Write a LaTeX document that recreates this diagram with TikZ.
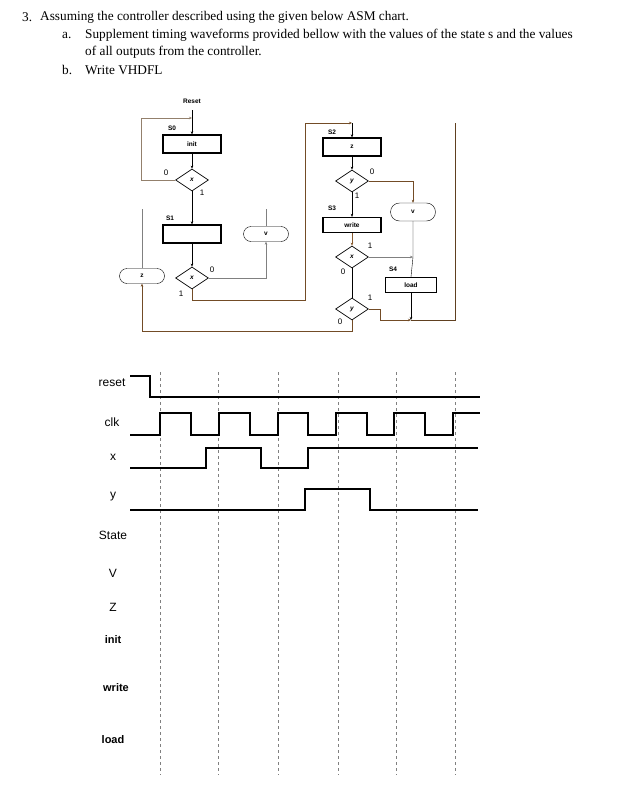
\documentclass[tikz,border=0pt]{standalone}
\usepackage{fontspec}
\setmainfont{Liberation Serif}
\newfontfamily\sfA{Liberation Sans}
\usetikzlibrary{shapes.geometric,shapes.misc,arrows.meta}
\begin{document}
\begin{tikzpicture}[x=1pt,y=-1pt,
  box/.style={draw,line width=1.3pt,minimum width=58pt,minimum height=18pt,inner sep=0pt,font=\sfA\fontsize{6.5}{7}\bfseries\selectfont},
  dia/.style={draw,diamond,aspect=1.55,minimum width=33pt,minimum height=22pt,inner sep=0pt,line width=0.7pt,font=\sfA\fontsize{6.5}{7}\bfseries\itshape\selectfont},
  ov/.style={draw,rounded rectangle,minimum width=45pt,minimum height=15pt,inner sep=0pt,font=\sfA\fontsize{6.5}{7}\bfseries\selectfont},
  sl/.style={font=\sfA\fontsize{6.5}{7}\bfseries\selectfont,inner sep=0pt},
  bl/.style={font=\sfA\fontsize{8}{9}\selectfont,inner sep=0pt},
  ar/.style={-{Stealth[length=3pt,width=2.5pt]}},
  wl/.style={font=\sfA\fontsize{12}{14}\selectfont,inner sep=0pt},
  wb/.style={font=\sfA\fontsize{11}{13}\bfseries\selectfont,inner sep=0pt},
  ws/.style={line width=1.1pt},
  dl/.style={dashed,gray,line width=0.9pt},
  tx/.style={anchor=west,inner sep=0pt,font=\fontsize{13.3}{15}\selectfont}]
\useasboundingbox (0,0) rectangle (625,792);
% header
\node[tx] (n3) at (22,17) {3.};
\node[tx] (t1) at (40,17) {Assuming the controller described using the given below ASM chart.};
\node[tx] (na) at (62,35) {a.};
\node[tx] (t2) at (85,35) {Supplement timing waveforms provided bellow with the values of the state s and the values};
\node[tx] (t3) at (85,52) {of all outputs from the controller.};
\node[tx] (nb) at (62,70) {b.};
\node[tx] (t4) at (85,70) {Write VHDFL};
% ASM chart
\node[sl] (reset) at (192,101) {Reset};
\node[box] (s0) at (192,144) {init};
\node[sl] (l0) at (172,128) {S0};
\node[dia] (d1) at (192,180) {x};
\node[bl] (d1a) at (166,173) {0};
\node[bl] (d1b) at (202,193) {1};
\coordinate (r0) at (192,110);
\coordinate (j0) at (192,118);
\draw[ar] (r0) -- (s0.north);
\draw[ar,gray!70!brown] (d1.west) -| (141,118) -- (j0);
\draw[ar] (s0.south) -- (d1.north);
\node[box] (s1) at (192,234) {};
\node[sl] (l1) at (170,218) {S1};
\draw[ar] (d1.south) -- (s1.north);
\node[dia] (d2) at (192,278) {x};
\node[bl] (d2a) at (212,270) {0};
\node[bl] (d2b) at (181,294) {1};
\draw[ar] (s1.south) -- (d2.north);
\node[ov] (v1) at (266,234) {v};
\draw[ar,gray] (d2.east) -| (v1.south);
\coordinate (v1t) at (266,209);
\draw[gray] (v1.north) -- (v1t);
\node[ov] (z1) at (142,276) {z};
\coordinate (z1t) at (142,209);
\draw[gray] (z1.north) -- (z1t);
\node[box] (s2) at (352,147) {z};
\node[sl] (l2) at (332,132) {S2};
\coordinate (j2) at (352,123);
\draw[ar,brown!60!black] (d2.south) |- (305,300) -- (305,123) -- (j2);
\draw[ar] (j2) -- (s2.north);
\node[dia] (d3) at (352,181) {y};
\node[bl] (d3a) at (372,172) {0};
\node[bl] (d3b) at (357,196) {1};
\draw[ar] (s2.south) -- (d3.north);
\node[box,minimum height=15pt] (s3) at (352,225) {write};
\node[sl] (l3) at (332,208) {S3};
\draw[ar] (d3.south) -- (s3.north);
\node[ov,minimum height=18pt] (v2) at (413,212) {v};
\draw[ar,brown!60!black] (d3.east) -| (v2.north);
\node[dia] (d4) at (352,257) {x};
\node[bl] (d4a) at (370,246) {1};
\node[bl] (d4b) at (343,272) {0};
\draw[ar,brown!70!black] (s3.south) -- (d4.north);
\node[box,minimum width=51pt,minimum height=15pt] (s4) at (411,285) {load};
\node[sl] (l4) at (393,269) {S4};
\coordinate (j4) at (413,257);
\draw[ar,gray] (d4.east) -- (j4);
\draw (v2.south) -- (j4) -- (s4.north);
\node[dia] (d5) at (352,309) {y};
\node[bl] (d5a) at (370,298) {1};
\node[bl] (d5b) at (340,322) {0};
\draw (d4.south) -- (d5.north);
\coordinate (j5) at (411,320);
\draw[ar,brown!60!black] (d5.east) -| (380,320) -- (j5);
\draw[ar] (s4.south) -- (j5);
\draw[brown!50!black] (j5) -- (455,320) -- (455,123);
\draw[ar,brown!60!black] (d5.south) |- (142,331) -- (z1.south);
% waveforms
\foreach \xx in {160,218,278,338,396,455} \draw[dl] (\xx,372) -- (\xx,775);
\node[wl] (wr) at (112,383) {reset};
\node[wl] (wc) at (112,422) {clk};
\node[wl] (wx) at (113,457) {x};
\node[wl] (wy) at (113,497) {y};
\node[wl] (ws1) at (113,535) {State};
\node[wl] (wv) at (113,573) {V};
\node[wl] (wz) at (113,607) {Z};
\node[wb] (wi) at (113,640) {init};
\node[wb] (ww) at (116,688) {write};
\node[wb] (wl2) at (113,740) {load};
\draw[ws] (130,376) -- (150,376) -- (150,397) -- (480,397);
\draw[ws] (130,435) -- (160,435) -- (160,413) -- (191,413) -- (191,435) -- (219,435) -- (219,413) -- (250,413) -- (250,435) -- (278,435) -- (278,413) -- (308,413) -- (308,435) -- (336,435) -- (336,413) -- (367,413) -- (367,435) -- (394,435) -- (394,413) -- (425,413) -- (425,435) -- (453,435) -- (453,413) -- (480,413);
\draw[ws] (130,468) -- (206,468) -- (206,448) -- (261,448) -- (261,468) -- (308,468) -- (308,448) -- (478,448);
\draw[ws] (130,510) -- (305,510) -- (305,489) -- (370,489) -- (370,510) -- (478,510);
\end{tikzpicture}
\end{document}
